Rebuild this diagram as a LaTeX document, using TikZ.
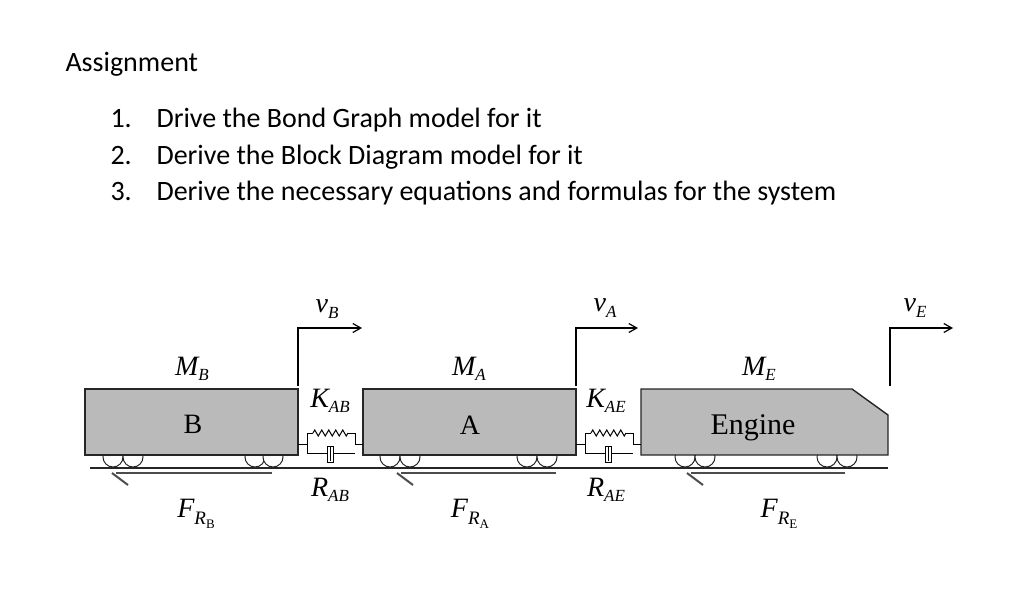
\documentclass[tikz,border=0pt]{standalone}
\usepackage{fontspec}
\setmainfont{Liberation Serif}
\newfontfamily\calib{Carlito}
\usetikzlibrary{decorations.pathmorphing,arrows.meta}
\newcommand{\lbl}[2]{{\itshape #1}\raisebox{-0.2em}{\fontsize{17}{17}\selectfont\itshape #2}}
\newcommand{\flbl}[2]{{\itshape F}\raisebox{-0.25em}{\fontsize{19}{19}\selectfont\itshape R\raisebox{-0.2em}{\fontsize{13}{13}\selectfont\upshape #2}}}
\begin{document}
\begin{tikzpicture}[x=1pt,y=-1pt,
  car/.style={draw=black!85,line width=1.4pt,fill=black!27},
  wheel/.style={draw=black!85,line width=1pt,fill=white},
  ln/.style={draw=black!85,line width=1.3pt},
  frc/.style={draw=black!70,line width=2.4pt},
  lab/.style={font=\fontsize{28}{30}\selectfont},
  txt/.style={font=\calib\fontsize{28}{30}\selectfont,anchor=base west}]
\useasboundingbox (0,0) rectangle (1024,595);
\node[txt] (t0) at (62,71) {Assignment};
\node[txt] (n1) at (107,127) {1.}; \node[txt] (t1) at (153,127) {Drive the Bond Graph model for it};
\node[txt] (n2) at (107,164) {2.}; \node[txt] (t2) at (153,164) {Derive the Block Diagram model for it};
\node[txt] (n3) at (107,200) {3.}; \node[txt] (t3) at (153,200) {Derive the necessary equations and formulas for the system};
% rail
\draw[ln] (90,468) -- (888,468);
% wheels
\foreach \x in {113,133,255,273,390,410,527,547,685,705,827,847}
  \draw[wheel] (\x,457) circle (10);
% cars
\draw[car] (85,389) rectangle (298,455);
\draw[car] (363,389) rectangle (576,455);
\draw[car] (641,389) -- (852,389) -- (888,415) -- (888,455) -- (641,455) -- cycle;
\node[lab] (B) at (193,424) {B};
\node[lab] (A) at (470,425) {A};
\node[lab,font=\fontsize{30}{32}\selectfont] (E) at (753,428) {Engine};
% spring dampers
\foreach \a/\b in {298/363,576/641}{
  \draw[line width=1pt] (\a,444) -- (\a+9,444) -- (\a+9,433) -- (\a+15,433);
  \draw[line width=1pt,decorate,decoration={zigzag,segment length=7,amplitude=3}] (\a+15,433) -- (\b-15,433);
  \draw[line width=1pt] (\b-15,433) -- (\b-8,433) -- (\b-8,444) -- (\b,444);
  \draw[line width=1pt] (\a+9,444) -- (\a+9,453) -- (\a+30,453);
  \draw[line width=1pt] (\b-8,453) -- (\a+35,453);
  \draw[line width=1pt,fill=white] (\a+29.5,446) rectangle (\a+35.5,462);
  \draw[line width=1pt] (\a+32.5,447) -- (\a+32.5,461);
}
% velocity arrows
\foreach \x/\e in {298/362,576/638,890/953}
  \draw[line width=1.2pt,-{Straight Barb[length=8,width=9]}] (\x,386) -- (\x,328) -- (\e,328);
% force arrows
\foreach \a/\b in {112/272,397/556,687/845}{
  \draw[frc] (\a+4,473) -- (\b,473);
  \draw[draw=black!70,line width=2pt] (\a,473) -- (\a+16,485);
}
% labels
\node[lab] (vB) at (327,309) {\lbl{v}{B}};
\node[lab] (vA) at (605,308) {\lbl{v}{A}};
\node[lab] (vE) at (915,308) {\lbl{v}{E}};
\node[lab] (MB) at (192,369) {\lbl{M}{B}};
\node[lab] (MA) at (469,369) {\lbl{M}{A}};
\node[lab] (ME) at (759,369) {\lbl{M}{E}};
\node[lab] (KAB) at (330,401) {\lbl{K}{AB}};
\node[lab] (KAE) at (606,401) {\lbl{K}{AE}};
\node[lab] (RAB) at (330,490) {\lbl{R}{AB}};
\node[lab] (RAE) at (606,490) {\lbl{R}{AE}};
\node[lab] (FB) at (196,514) {\flbl{F}{B}};
\node[lab] (FA) at (470,514) {\flbl{F}{A}};
\node[lab] (FE) at (779,514) {\flbl{F}{E}};
\end{tikzpicture}
\end{document}
